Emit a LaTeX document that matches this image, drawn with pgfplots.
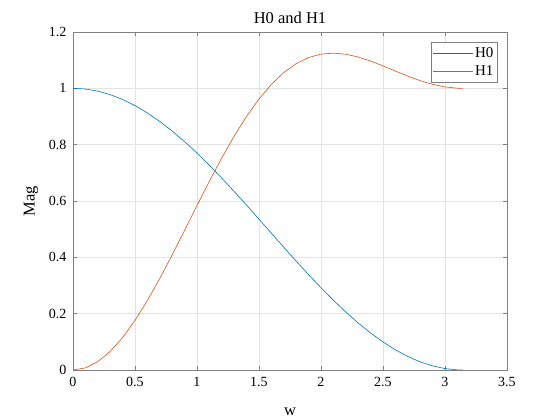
\documentclass[border=0pt]{standalone}
\usepackage{fontspec}
\setmainfont{Liberation Serif}
\usepackage{pgfplots}
\pgfplotsset{compat=1.18}
\definecolor{mblue}{HTML}{0072BD}
\definecolor{morange}{HTML}{D95319}
\definecolor{axgray}{HTML}{808080}
\begin{document}
\begin{tikzpicture}
\useasboundingbox (-73pt,-50pt) rectangle (487pt,370pt);
\begin{axis}[
  scale only axis, width=434pt, height=338pt,
  xmin=0, xmax=3.5, ymin=0, ymax=1.2,
  xtick={0,0.5,...,3.5}, ytick={0,0.2,...,1.2},
  xticklabels={0,0.5,1,1.5,2,2.5,3,3.5},
  yticklabels={0,0.2,0.4,0.6,0.8,1,1.2},
  /pgf/number format/assume math mode=true,
  grid=major, major grid style={gray!22, line width=0.5pt},
  axis line style={axgray, line width=0.6pt},
  tick style={axgray, line width=0.6pt}, tick align=inside,
  major tick length=4pt,
  ticklabel style={font=\fontsize{14}{16}\selectfont},
  xticklabel style={yshift=-4pt},
  yticklabel style={xshift=-3pt},
  title={H0 and H1}, title style={font=\fontsize{16.5}{19}\selectfont, yshift=-1pt},
  xlabel={w}, ylabel={Mag},
  label style={font=\fontsize{16.5}{19}\selectfont},
  xlabel style={yshift=-14pt}, ylabel style={yshift=4pt},
  legend style={at={(0.979,0.97)}, anchor=north east, draw=axgray, line width=0.8pt,
    font=\fontsize{15}{17}\selectfont, inner xsep=2pt, inner ysep=3pt, row sep=3pt},
  legend cell align=left,
]
\addplot[color=mblue, line width=0.6pt,
  legend image code/.code={\fill[fill=mblue, draw=none] (0pt,-0.5pt) rectangle (40pt,0.5pt);}] coordinates {
(0,1) (0.1,0.997502) (0.2,0.990033) (0.3,0.977668) (0.4,0.960531) (0.5,0.938791)
(0.6,0.912668) (0.7,0.882421) (0.8,0.848353) (0.9,0.810805) (1.0,0.770151)
(1.1,0.726798) (1.2,0.681179) (1.3,0.633749) (1.4,0.584984) (1.5,0.535369)
(1.6,0.485400) (1.7,0.435578) (1.8,0.386399) (1.9,0.338355) (2.0,0.291927)
(2.1,0.247577) (2.2,0.205749) (2.3,0.166862) (2.4,0.131303) (2.5,0.099428)
(2.6,0.071556) (2.7,0.047964) (2.8,0.028889) (2.9,0.014521) (3.0,0.005004)
(3.1,0.000433) (3.14159,0)
};
\addlegendentry{H0}
\addplot[color=morange, line width=0.6pt,
  legend image code/.code={\fill[fill=morange, draw=none] (0pt,-0.5pt) rectangle (40pt,0.5pt);}] coordinates {
(0,0) (0.1,0.007482) (0.2,0.029702) (0.3,0.065999) (0.4,0.115292) (0.5,0.176133)
(0.6,0.246743) (0.7,0.325087) (0.8,0.408946) (0.9,0.495995) (1.0,0.583886)
(1.1,0.670327) (1.2,0.753169) (1.3,0.830473) (1.4,0.900571) (1.5,0.962129)
(1.6,1.014174) (1.7,1.056121) (1.8,1.087789) (1.9,1.109387) (2.0,1.121484)
(2.1,1.124988) (2.2,1.121083) (2.3,1.111176) (2.4,1.096822) (2.5,1.079656)
(2.6,1.061315) (2.7,1.043363) (2.8,1.027220) (2.9,1.014099) (3.0,1.004952)
(3.1,1.000433) (3.14159,1)
};
\addlegendentry{H1}
\end{axis}
\end{tikzpicture}
\end{document}
